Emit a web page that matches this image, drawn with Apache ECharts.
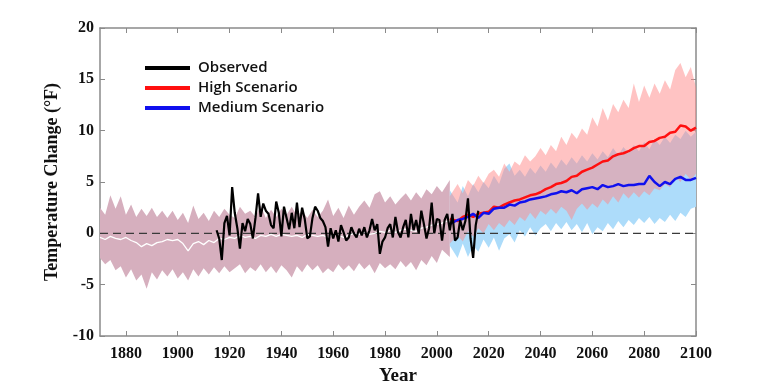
<!DOCTYPE html>
<html><head><meta charset="utf-8">
<script src="https://cdn.jsdelivr.net/npm/echarts@6/dist/echarts.min.js"></script>
<style>html,body{margin:0;padding:0;background:#fff}#c{width:768px;height:384px}</style>
</head><body><div id="c"></div>
<script>
// ---------- DATA ----------
const xTickYears = [1880,1900,1920,1940,1960,1980,2000,2020,2040,2060,2080,2100];

const obsYears = [1915,1916,1917,1918,1919,1920,1921,1922,1923,1924,1925,1926,1927,1928,1929,1930,1931,1932,1933,1934,1935,1936,1937,1938,1939,1940,1941,1942,1943,1944,1945,1946,1947,1948,1949,1950,1951,1952,1953,1954,1955,1956,1957,1958,1959,1960,1961,1962,1963,1964,1965,1966,1967,1968,1969,1970,1971,1972,1973,1974,1975,1976,1977,1978,1979,1980,1981,1982,1983,1984,1985,1986,1987,1988,1989,1990,1991,1992,1993,1994,1995,1996,1997,1998,1999,2000,2001,2002,2003,2004,2005,2006,2007,2008,2009,2010,2011,2012,2013,2014,2015,2016];
const observed = [0.3,-0.5,-2.6,1.0,1.7,-0.2,4.5,2.0,0.5,-1.5,
  1.0,0.2,1.4,0.9,-0.5,1.5,3.9,1.6,2.9,2.2,
  1.9,0.8,0.5,3.1,2.0,-0.3,2.6,1.5,0.4,2.0,
  0.5,3.0,0.6,2.5,1.4,-0.5,-0.3,1.5,2.6,2.2,
  1.5,1.2,0.6,-1.3,0.5,-0.5,0.3,-0.8,0.8,0.1,
  -0.7,-0.4,0.6,0.0,-0.4,0.45,-0.2,0.6,-0.4,0.3,
  1.4,0.3,0.9,-2.0,-0.8,-0.4,0.5,0.9,-0.4,1.6,
  0.1,-0.4,0.6,1.3,-0.4,1.9,0.3,1.3,0.0,2.2,
  0.9,-0.5,0.5,3.0,0.0,1.4,1.3,-0.7,1.3,1.9,
  0.3,1.9,-0.7,-0.4,1.3,0.3,1.2,3.4,-0.5,-2.4,
  0.8,2.2];

const histYears = [1870,1872,1874,1876,1878,1880,1882,1884,1886,1888,1890,1892,1894,1896,1898,1900,1902,1904,1906,1908,1910,1912,1914,1916,1918,1920,1922,1924,1926,1928,1930,1932,1934,1936,1938,1940,1942,1944,1946,1948,1950,1952,1954,1956,1958,1960,1962,1964,1966,1968,1970,1972,1974,1976,1978,1980,1982,1984,1986,1988,1990,1992,1994,1996,1998,2000,2002,2005];
const histUpper = [2.5,1.8,3.7,2.4,3.6,1.8,2.8,1.6,2.4,1.7,
  2.5,1.6,2.2,1.5,2.2,1.3,2.0,1.0,2.7,1.4,
  2.0,1.2,2.2,1.6,2.4,1.8,1.5,2.6,1.9,2.2,
  1.6,2.7,1.5,2.3,1.6,2.4,1.8,2.6,1.7,2.2,
  1.5,2.3,1.6,2.2,3.3,1.7,2.5,1.5,2.7,1.8,
  2.6,3.2,2.5,3.8,4.1,3.0,3.6,2.8,3.4,3.9,
  3.2,4.0,3.4,4.3,3.8,4.6,4.0,5.2];
const histLower = [-2.4,-3.0,-2.6,-3.6,-3.2,-4.3,-3.5,-4.6,-4.0,-5.4,
  -3.8,-4.5,-3.6,-4.2,-3.5,-4.4,-3.8,-4.6,-3.5,-4.2,
  -3.4,-4.0,-3.3,-3.9,-3.2,-3.8,-3.4,-3.0,-3.9,-3.3,
  -3.7,-3.0,-3.8,-3.2,-3.9,-3.1,-3.6,-4.3,-3.2,-3.8,
  -3.0,-3.6,-3.1,-3.9,-3.4,-3.8,-3.0,-3.6,-3.1,-3.7,
  -2.9,-3.5,-3.0,-3.9,-2.9,-3.4,-3.0,-3.5,-2.7,-3.3,
  -2.8,-3.6,-2.6,-3.1,-2.2,-2.9,-1.6,-2.3];
const histMean = [-0.4,-0.6,-0.3,-0.5,-0.6,-0.4,-0.7,-0.9,-1.3,-1.0,
  -1.2,-0.9,-0.8,-0.6,-0.7,-0.6,-1.0,-1.7,-1.0,-0.8,
  -1.1,-0.7,-0.9,-0.5,-0.6,-0.4,-0.5,-0.2,-0.4,-0.3,
  -0.5,-0.2,-0.3,-0.1,-0.3,-0.1,-0.2,-0.3,-0.2,-0.4,
  -0.1,-0.2,-0.3,-0.2,-0.4,-0.1,-0.2,-0.4,-0.2,0.0,
  -0.1,0.1,-0.1,0.0,0.2,0.1,0.3,0.1,0.3,0.4,
  0.3,0.2,0.5,0.6,0.8,0.9,1.0,1.3];

const futYears = [2005,2008,2010,2012,2014,2016,2018,2020,2022,2024,2026,2028,2030,2032,2034,2036,2038,2040,2042,2044,2046,2048,2050,2052,2054,2056,2058,2060,2062,2064,2066,2068,2070,2072,2074,2076,2078,2080,2082,2084,2086,2088,2090,2092,2094,2096,2098,2100];
const highUpper = [3.6,4.8,3.9,5.2,4.6,5.6,4.9,5.8,6.2,5.5,
  6.8,6.0,7.0,6.6,7.6,7.0,7.5,8.3,7.6,8.6,
  8.0,9.4,8.6,9.8,9.2,10.2,9.6,11.3,10.4,12.2,
  11.0,12.6,11.8,13.0,12.2,14.6,12.8,14.4,13.2,14.6,
  13.6,14.9,14.0,15.9,16.6,15.2,16.2,14.2];
const highLower = [-1.0,-0.2,-0.8,0.2,-0.3,0.5,0.0,0.9,0.3,1.0,
  0.6,1.3,0.8,1.6,1.2,2.0,1.4,2.2,1.8,2.4,
  1.9,2.6,2.2,1.3,2.4,2.9,2.3,2.9,2.5,3.3,
  2.8,3.6,3.0,3.9,3.4,4.0,3.5,4.1,3.7,4.4,
  4.2,4.8,4.5,5.5,5.0,5.8,5.2,5.8];
const medUpper = [4.2,3.0,4.6,3.6,4.8,4.0,5.0,4.4,5.6,4.8,
  6.3,6.8,5.6,6.2,5.5,6.4,5.8,6.6,6.0,6.9,
  6.3,7.2,6.6,7.4,6.8,7.6,7.0,7.8,7.2,8.0,
  7.4,8.3,7.6,8.4,7.8,8.6,8.0,8.9,8.2,9.2,
  8.6,9.4,8.8,9.6,9.2,10.0,9.4,9.9];
const medLower = [-1.2,-2.4,-1.0,-2.3,-1.2,-1.8,-0.6,-1.4,-0.4,-1.7,
  -0.5,-0.1,-0.9,0.3,-0.3,0.6,-0.2,0.5,0.9,0.2,
  1.0,0.4,1.1,0.3,0.9,0.1,1.0,-0.1,0.6,0.2,
  1.0,0.4,1.2,0.6,1.3,0.8,1.5,1.0,1.6,0.9,
  1.5,1.1,1.8,1.2,2.0,1.6,2.4,2.6];
const highScenario = [1.4,1.2,1.6,1.8,1.6,1.9,2.0,2.1,2.6,2.5,
  2.8,3.0,3.2,3.3,3.5,3.7,3.8,4.0,4.3,4.5,
  4.8,4.9,5.1,5.5,5.6,6.0,6.2,6.4,6.7,7.0,
  7.1,7.5,7.7,7.8,8.0,8.3,8.5,8.5,8.9,9.0,
  9.3,9.4,9.8,9.9,10.5,10.4,10.0,10.3];
const mediumScenario = [0.9,1.3,1.4,1.6,1.9,1.5,2.0,1.9,2.4,2.5,
  2.5,2.8,2.7,3.0,3.1,3.3,3.4,3.5,3.6,3.8,
  3.9,4.1,4.0,4.2,3.9,4.3,4.4,4.5,4.3,4.7,
  4.5,4.6,4.8,4.6,4.7,4.7,4.8,4.8,5.6,5.0,
  4.6,5.0,4.8,5.3,5.5,5.2,5.2,5.4];

// ---------- CHART ----------
const pairs = (xs, ys) => xs.map((x, i) => [x, ys[i]]);
function band(name, xs, lo, hi, color, z) {
  return {
    type: 'custom', name: name, z: z, silent: true, clip: true,
    data: [[xs[0], hi[0]]],
    renderItem: function (params, api) {
      const pts = [];
      for (let i = 0; i < xs.length; i++) pts.push(api.coord([xs[i], hi[i]]));
      for (let i = xs.length - 1; i >= 0; i--) pts.push(api.coord([xs[i], lo[i]]));
      return { type: 'polygon', shape: { points: pts }, style: { fill: color } };
    }
  };
}
const axisColor = '#8a8a8a';
const serif = 'Liberation Serif';
const chart = echarts.init(document.getElementById('c'), null, { renderer: 'canvas' });
chart.setOption({
  animation: false,
  backgroundColor: '#fff',
  grid: { left: 100, right: 72, top: 28, bottom: 48, containLabel: false, outerBoundsMode: 'none' },
  legend: {
    data: ['Observed', 'High Scenario', 'Medium Scenario'],
    orient: 'vertical', left: 140, top: 55, icon: 'rect',
    itemWidth: 45, itemHeight: 4, itemGap: 4, selectedMode: false,
    textStyle: { fontFamily: 'Open Sans', fontWeight: 600, fontSize: 15, color: '#111', lineHeight: 16, padding: [0, 0, 0, 3] }
  },
  xAxis: [{
    type: 'value', min: 1870, max: 2100, position: 'bottom',
    name: 'Year', nameLocation: 'middle', nameGap: 29,
    nameTextStyle: { fontFamily: serif, fontWeight: 'bold', fontSize: 19, color: '#111' },
    axisLine: { show: true, onZero: false, lineStyle: { color: axisColor, width: 1.5 } },
    axisTick: { show: true, inside: true, length: 5, customValues: xTickYears, lineStyle: { color: axisColor } },
    axisLabel: { customValues: xTickYears, margin: 10, formatter: v => String(v), fontFamily: serif, fontWeight: 'bold', fontSize: 16, color: '#111' },
    splitLine: { show: false }
  }, {
    type: 'value', min: 1870, max: 2100, position: 'top',
    axisLine: { show: true, onZero: false, lineStyle: { color: axisColor, width: 1.5 } },
    axisTick: { show: true, inside: true, length: 5, customValues: xTickYears, lineStyle: { color: axisColor } },
    axisLabel: { show: false }, splitLine: { show: false }
  }],
  yAxis: [{
    type: 'value', min: -10, max: 20, interval: 5, position: 'left',
    name: 'Temperature Change (°F)', nameLocation: 'middle', nameGap: 30,
    nameTextStyle: { fontFamily: serif, fontWeight: 'bold', fontSize: 18, color: '#111' },
    axisLine: { show: true, onZero: false, lineStyle: { color: axisColor, width: 1.5 } },
    axisTick: { show: true, inside: true, length: 5, lineStyle: { color: axisColor } },
    axisLabel: { margin: 6, fontFamily: serif, fontWeight: 'bold', fontSize: 16, color: '#111' },
    splitLine: { show: false }
  }, {
    type: 'value', min: -10, max: 20, interval: 5, position: 'right',
    axisLine: { show: true, onZero: false, lineStyle: { color: axisColor, width: 1.5 } },
    axisTick: { show: true, inside: true, length: 5, lineStyle: { color: axisColor } },
    axisLabel: { show: false }, splitLine: { show: false }
  }],
  series: [
    band('histBand', histYears, histLower, histUpper, '#d6afbe', 1),
    band('medBand', futYears, medLower, medUpper, '#addcfa', 1),
    band('highBand', futYears, highLower, highUpper, 'rgba(255,135,135,0.5)', 1),
    { type: 'line', name: 'zero', z: 2, silent: true, symbol: 'none',
      data: [[1870, 0], [2100, 0]],
      lineStyle: { color: '#3a3a3a', width: 1.1, type: [8, 5] } },
    { type: 'line', name: 'modelMean', z: 3, silent: true, symbol: 'none',
      data: pairs(histYears, histMean),
      lineStyle: { color: '#ffffff', width: 1.3 } },
    { type: 'line', name: 'High Scenario', z: 4, symbol: 'none',
      data: pairs(futYears, highScenario), color: '#ff1010',
      lineStyle: { color: '#ff1010', width: 2.5 } },
    { type: 'line', name: 'Medium Scenario', z: 5, symbol: 'none',
      data: pairs(futYears, mediumScenario), color: '#1010ee',
      lineStyle: { color: '#1010ee', width: 2.5 } },
    { type: 'line', name: 'Observed', z: 6, symbol: 'none',
      data: pairs(obsYears, observed), color: '#000',
      lineStyle: { color: '#000', width: 2.2 } }
  ]
});
</script>
</body></html>
